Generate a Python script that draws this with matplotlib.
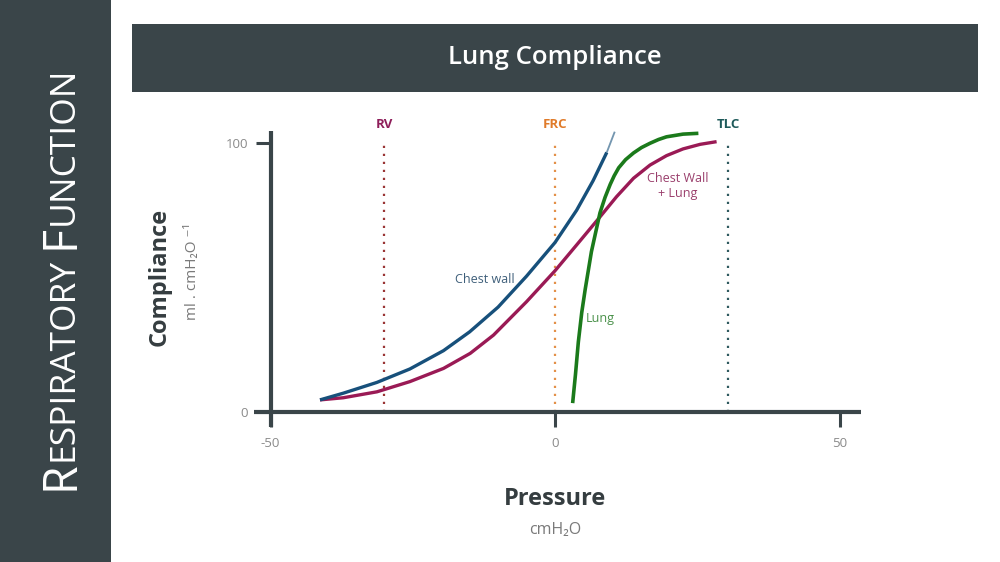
import matplotlib
matplotlib.use("Agg")
import matplotlib.pyplot as plt
from matplotlib.patches import Rectangle

plt.rcParams['font.family'] = ['Open Sans', 'DejaVu Sans']

# ---------------- data ----------------
chest_wall_x = [-41.3, -37.2, -31.3, -25.5, -19.6, -15.0, -10.0, -5.0, 0.0, 3.8, 6.7, 9.1, 10.5]
chest_wall_y = [4.5, 7.0, 11.0, 16.0, 22.8, 29.8, 39.0, 50.5, 63.0, 75.0, 86.0, 96.5, 104.2]

cwl_x = [-41.3, -37.2, -31.3, -25.5, -19.6, -14.9, -10.8, -5.0, 0.0, 3.8, 7.7, 10.8, 13.8, 16.7, 19.6, 22.5, 25.5, 28.4]
cwl_y = [4.5, 5.3, 7.5, 11.3, 16.2, 21.8, 28.6, 41.0, 52.5, 62.1, 72.0, 80.0, 86.9, 91.8, 95.3, 97.8, 99.5, 100.5]

lung_x = [3.1, 3.6, 4.1, 4.7, 5.3, 6.4, 7.9, 8.8, 9.7, 10.4, 11.2, 12.4, 13.8, 15.2, 16.7, 18.2, 19.6, 22.5, 25.2]
lung_y = [3.3, 14.0, 26.0, 37.0, 45.5, 59.6, 74.0, 79.8, 84.6, 87.8, 90.8, 93.8, 96.3, 98.3, 99.9, 101.3, 102.3, 103.3, 103.6]

markers = ['RV', 'FRC', 'TLC']
marker_x = [-30, 0, 30.4]

x_ticks = [-50, 0, 50]
x_tick_labels = ['-50', '0', '50']
y_ticks = [0, 100]
y_tick_labels = ['0', '100']

# ---------------- styling ----------------
DARK = '#3a4549'
BLUE = '#17507b'
MAGENTA = '#9a1a55'
GREEN = '#1b7a1b'

W, H = 1000, 562
fig = plt.figure(figsize=(W / 100, H / 100), dpi=100)
fig.patch.set_facecolor('white')

def fx(px):
    return px / W

def fy(py):
    return 1 - py / H

# sidebar
fig.patches.append(Rectangle((0, 0), fx(111), 1, transform=fig.transFigure,
                             facecolor=DARK, edgecolor='none', zorder=0))
# banner
fig.patches.append(Rectangle((fx(132), fy(92)), fx(978 - 132), (92 - 24) / H,
                             transform=fig.transFigure, facecolor=DARK,
                             edgecolor='none', zorder=0))
fig.text(fx(555), fy(58), 'Lung Compliance', color='white', fontsize=18.5,
         fontweight='semibold', ha='center', va='center')

# axes: x px = 555 + 5.69*x ; y px = 412 - 2.69*y
XPU, YPU = 5.69, 2.69
xmin, xmax = -56, 56
ymin, ymax = -8, 110
left_px = 555 + xmin * XPU
bottom_px = 412 - ymin * YPU
ax = fig.add_axes([fx(left_px), fy(bottom_px), (xmax - xmin) * XPU / W,
                   (ymax - ymin) * YPU / H])
ax.set_xlim(xmin, xmax)
ax.set_ylim(ymin, ymax)
ax.patch.set_alpha(0)

for s in ['top', 'right']:
    ax.spines[s].set_visible(False)
ax.spines['left'].set_position(('data', -50))
ax.spines['bottom'].set_position(('data', 0))
ax.spines['left'].set_bounds(-5.6, 104.5)
ax.spines['bottom'].set_bounds(-52.9, 53.8)
for s in ['left', 'bottom']:
    ax.spines[s].set_color(DARK)
    ax.spines[s].set_linewidth(3)
    ax.spines[s].set_capstyle('butt')

ax.set_xticks(x_ticks)
ax.set_xticklabels(x_tick_labels)
ax.set_yticks(y_ticks)
ax.set_yticklabels(y_tick_labels)
ax.tick_params(axis='x', direction='out', length=11, width=2.2, color=DARK,
               labelsize=9.5, labelcolor='#8a8a8a', pad=7)
ax.tick_params(axis='y', direction='out', length=11, width=2.2, color=DARK,
               labelsize=9.5, labelcolor='#8a8a8a', pad=5)

# marker lines
line_cols = ['#9a3535', '#e39048', '#2f5a5f']
label_cols = ['#8e1e5a', '#e07b2a', '#1e5a5a']
for name, xv, lc, tc in zip(markers, marker_x, line_cols, label_cols):
    ax.vlines(xv, 0, 100.5, colors=lc, linestyles=(0, (1, 2.6)), linewidth=1.6, zorder=2)
    ax.text(xv, 106.7, name, color=tc, fontsize=9.5, fontweight='bold',
            ha='center', va='center')

def curve(x, y, color, w, thin_end=False):
    if thin_end:
        ax.plot(x[:-1], y[:-1], color=color, lw=w, solid_joinstyle='round',
                solid_capstyle='butt', zorder=3)
        ax.plot(x[-2:], y[-2:], color=color, lw=w * 0.55, alpha=0.6,
                solid_capstyle='butt', zorder=3)
    else:
        ax.plot(x, y, color=color, lw=w, solid_joinstyle='round',
                solid_capstyle='butt', zorder=3)

curve(cwl_x, cwl_y, MAGENTA, 2.4)
curve(chest_wall_x, chest_wall_y, BLUE, 2.4, thin_end=True)
curve(lung_x, lung_y, GREEN, 2.6)

ax.text(-12.3, 49.4, 'Chest wall', color='#3f5f7a', fontsize=9, ha='center', va='center')
ax.text(8.0, 34.6, 'Lung', color='#4a914a', fontsize=9, ha='center', va='center')
ax.text(21.6, 84.0, 'Chest Wall\n+ Lung', color='#9a3f6c', fontsize=9, ha='center',
        va='center', linespacing=1.15)

# axis titles
fig.text(fx(160), fy(277), 'Compliance', rotation=90, fontsize=17, fontweight='bold',
         color='#353d40', ha='center', va='center')
fig.text(fx(192), fy(272), 'ml . cmH₂O ⁻¹', rotation=90, fontsize=11,
         color='#7a7a7a', ha='center', va='center')
fig.text(fx(555), fy(499), 'Pressure', fontsize=17, fontweight='bold',
         color='#353d40', ha='center', va='center')
fig.text(fx(555), fy(530), 'cmH₂O', fontsize=11.5, color='#7a7a7a',
         ha='center', va='center')

# sidebar text in small caps
pieces = [('R', 33.5), ('ESPIRATORY', 25.5), (' ', 25.5), ('F', 33.5), ('UNCTION', 25.5)]
renderer = fig.canvas.get_renderer()
ypos = fy(490)
for txt, size in pieces:
    t = fig.text(fx(73), ypos, txt if txt != ' ' else '\u00a0', rotation=90,
                 rotation_mode='anchor', ha='left', va='baseline',
                 fontsize=size, color='white')
    bb = t.get_window_extent(renderer=renderer)
    ypos = fig.transFigure.inverted().transform((0, bb.y1))[1]

fig.savefig('out.png', dpi=100, facecolor='white')
